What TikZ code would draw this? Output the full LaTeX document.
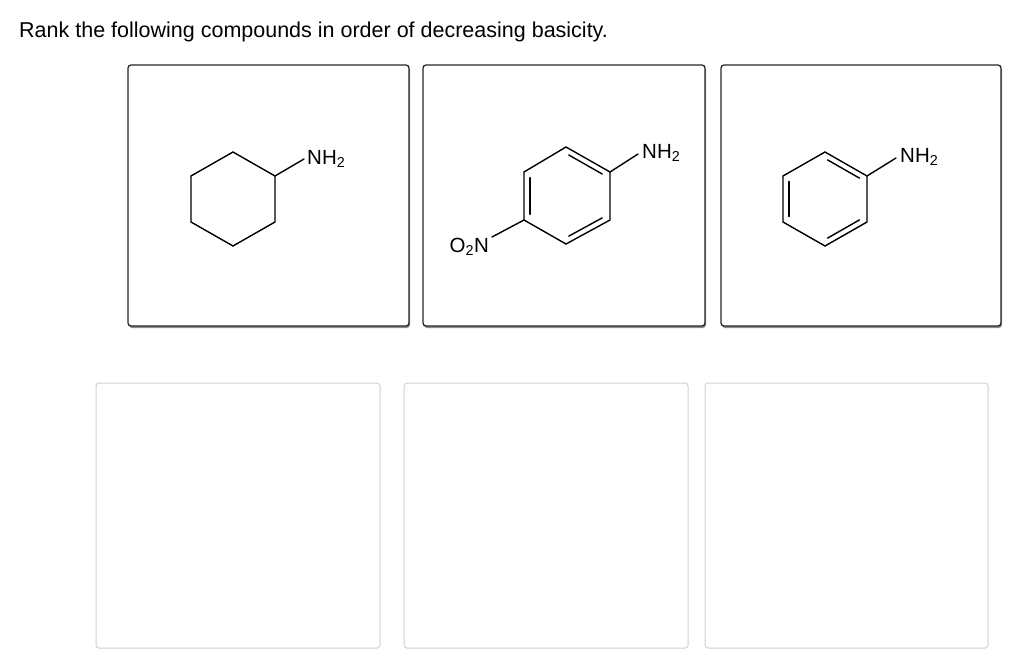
\documentclass[tikz,border=0pt]{standalone}
\usepackage{fontspec}
\setmainfont{Liberation Sans}
\usetikzlibrary{calc}
\begin{document}
\begin{tikzpicture}[x=1pt,y=-1pt,
  topbox/.style={draw=black!85,line width=1.3pt,rounded corners=3pt,fill=white},
  botbox/.style={draw=black!18,line width=1pt,rounded corners=3pt,fill=white},
  bond/.style={line width=1.4pt,line cap=round},
  lab/.style={font=\fontsize{20.5}{21}\selectfont,inner sep=0pt}]
\useasboundingbox (0,0) rectangle (1024,665);
\node[anchor=base west,font=\fontsize{21.5}{22}\selectfont,inner sep=0pt] (title) at (19,37) {Rank the following compounds in order of decreasing basicity.};
% top boxes with shadow
\foreach \a/\b in {128/409,423/705,721/1001}{
  \fill[black!45,rounded corners=3pt] (\a+1,67) rectangle (\b+1,328);
  \draw[topbox] (\a,65) rectangle (\b,326);
}
\foreach \a/\b in {96/380,404/688,705/988}{
  \draw[botbox] (\a,383) rectangle (\b,648);
}
% cyclohexylamine
\coordinate (c1) at (233,152); \coordinate (c2) at (275,176); \coordinate (c3) at (275,222);
\coordinate (c4) at (233,246); \coordinate (c5) at (191,222); \coordinate (c6) at (191,176);
\draw[bond] (c1)--(c2)--(c3)--(c4)--(c5)--(c6)--cycle;
\node[lab,anchor=base west] (n1) at (307,164) {NH\textsubscript{2}};
\coordinate (b1) at (304,159);
\draw[bond] (c2) -- (b1);
% nitroaniline
\coordinate (d1) at (566,147); \coordinate (d2) at (610,172); \coordinate (d3) at (610,220);
\coordinate (d4) at (566,244); \coordinate (d5) at (524,220); \coordinate (d6) at (524,172);
\draw[bond] (d1)--(d2)--(d3)--(d4)--(d5)--(d6)--cycle;
\draw[bond] ($(d1)!0.12!(d2)+(-2.5,5)$) -- ($(d1)!0.88!(d2)+(-2.5,5)$);
\draw[bond] ($(d3)!0.12!(d4)+(-2.5,-5)$) -- ($(d3)!0.88!(d4)+(-2.5,-5)$);
\draw[bond] ($(d5)!0.12!(d6)+(6,0)$) -- ($(d5)!0.88!(d6)+(6,0)$);
\node[lab,anchor=base west] (n2) at (642,158) {NH\textsubscript{2}};
\coordinate (b2) at (638,154);
\draw[bond] (d2) -- (b2);
\node[lab,anchor=base east] (o2n) at (489,252) {O\textsubscript{2}N};
\coordinate (b3) at (492,237);
\draw[bond] (d5) -- (b3);
% aniline
\coordinate (e1) at (825,152); \coordinate (e2) at (867,176); \coordinate (e3) at (867,222);
\coordinate (e4) at (825,246); \coordinate (e5) at (783,222); \coordinate (e6) at (783,176);
\draw[bond] (e1)--(e2)--(e3)--(e4)--(e5)--(e6)--cycle;
\draw[bond] ($(e1)!0.12!(e2)+(-2.5,5)$) -- ($(e1)!0.88!(e2)+(-2.5,5)$);
\draw[bond] ($(e3)!0.12!(e4)+(-2.5,-5)$) -- ($(e3)!0.88!(e4)+(-2.5,-5)$);
\draw[bond] ($(e5)!0.12!(e6)+(6,0)$) -- ($(e5)!0.88!(e6)+(6,0)$);
\node[lab,anchor=base west] (n3) at (900,162) {NH\textsubscript{2}};
\coordinate (b4) at (896,158);
\draw[bond] (e2) -- (b4);
\end{tikzpicture}
\end{document}
